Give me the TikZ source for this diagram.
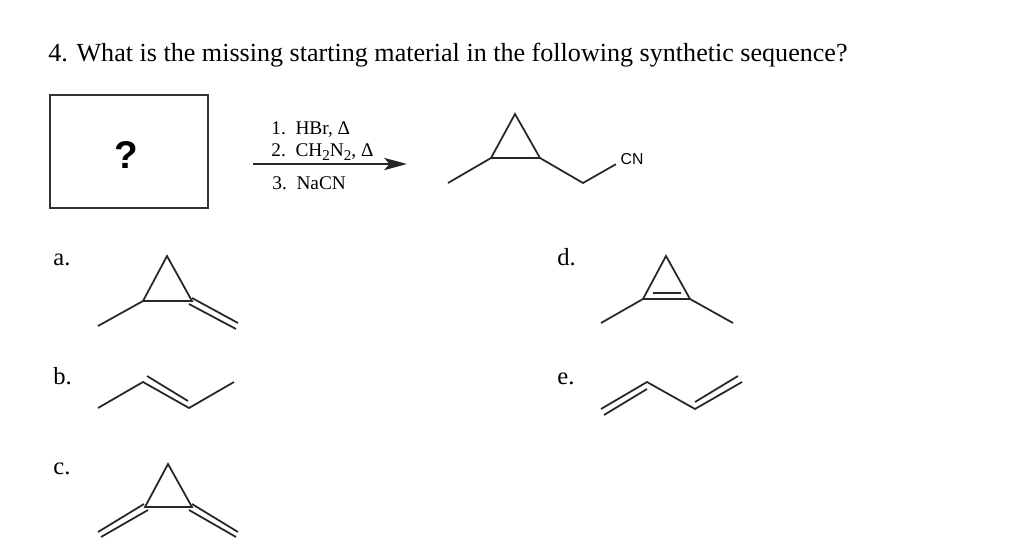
\documentclass[tikz,border=0pt]{standalone}
\usepackage{fontspec}
\setmainfont{Liberation Serif}
\setsansfont{Liberation Sans}
\usetikzlibrary{arrows.meta}
\newcommand{\subnum}[1]{\raisebox{-2.4pt}{\fontsize{8.6}{8}\selectfont #1}}
\tikzset{
  bond/.style={draw,line width=1pt,black!85},
  txt/.style={inner sep=0pt,anchor=base west,font=\fontsize{14}{16}\selectfont},
  reag/.style={inner sep=0pt,anchor=base west,font=\fontsize{11}{12}\selectfont},
}
\begin{document}
\begin{tikzpicture}[x=0.02cm,y=-0.02cm]
\useasboundingbox (0,0) rectangle (1024,558);

\node[txt,font=\fontsize{14.85}{17}\selectfont] (title) at (48,61) {4. What is the missing starting material in the following synthetic sequence?};

% box and reaction arrow
\node[draw,line width=1pt,black!80,minimum width=158*0.02cm,minimum height=113*0.02cm,inner sep=0pt] (box) at (129,151.5) {};
\node[inner sep=0pt,font=\sffamily\bfseries\fontsize{22}{24}\selectfont] (qm) at (126,155) {?};
\coordinate (a1) at (253,164);
\coordinate (a2) at (407,164);
\path[draw,line width=1pt,black!85,-{Stealth[length=13pt,width=7pt,inset=3pt]}] (a1) -- (a2);
\node[reag] (r1) at (271,134) {1.\hspace{0.5em}HBr, Δ};
\node[reag] (r2) at (271,156) {2.\hspace{0.5em}CH\subnum{2}N\subnum{2}, Δ};
\node[reag] (r3) at (272,189) {3.\hspace{0.5em}NaCN};

% product
\coordinate (p1) at (515,114);
\coordinate (p2) at (491,158);
\coordinate (p3) at (540,158);
\coordinate (p4) at (448,183);
\coordinate (p5) at (583,183);
\node[inner sep=2.5pt,font=\sffamily\fontsize{9}{10}\selectfont] (cn) at (632,159) {CN};
\path[bond] (p1) -- (p2) -- (p3) -- cycle;
\path[bond] (p2) -- (p4);
\path[bond] (p3) -- (p5) -- (cn.198);

% a
\node[txt] (la) at (53,265) {a.};
\coordinate (a-1) at (167,256);
\coordinate (a-2) at (143,301);
\coordinate (a-3) at (192,301);
\coordinate (a-4) at (98,326);
\coordinate (a-5) at (238,323);
\coordinate (a-6) at (236,329);
\coordinate (a-7) at (189,304);
\coordinate (a-8) at (192,298);
\path[bond] (a-1) -- (a-2) -- (a-3) -- cycle;
\path[bond] (a-2) -- (a-4);
\path[bond] (a-8) -- (a-5);
\path[bond] (a-7) -- (a-6);

% b
\node[txt] (lb) at (53,384) {b.};
\coordinate (b-1) at (98,408);
\coordinate (b-2) at (143,382);
\coordinate (b-3) at (189,408);
\coordinate (b-4) at (234,382);
\coordinate (b-5) at (147,376);
\coordinate (b-6) at (188,401);
\path[bond] (b-1) -- (b-2) -- (b-3) -- (b-4);
\path[bond] (b-5) -- (b-6);

% c
\node[txt] (lc) at (53,474) {c.};
\coordinate (c-1) at (168,464);
\coordinate (c-2) at (145,507);
\coordinate (c-3) at (192,507);
\coordinate (c-4) at (98,532);
\coordinate (c-5) at (101,537);
\coordinate (c-6) at (238,532);
\coordinate (c-7) at (236,537);
\coordinate (c-8) at (144,504);
\coordinate (c-9) at (148,510);
\coordinate (c-10) at (192,504);
\coordinate (c-11) at (189,510);
\path[bond] (c-1) -- (c-2) -- (c-3) -- cycle;
\path[bond] (c-8) -- (c-4);
\path[bond] (c-9) -- (c-5);
\path[bond] (c-10) -- (c-6);
\path[bond] (c-11) -- (c-7);

% d
\node[txt] (ld) at (557,265) {d.};
\coordinate (d-1) at (666,256);
\coordinate (d-2) at (643,299);
\coordinate (d-3) at (690,299);
\coordinate (d-4) at (601,323);
\coordinate (d-5) at (733,323);
\coordinate (d-6) at (653,293);
\coordinate (d-7) at (681,293);
\path[bond] (d-1) -- (d-2) -- (d-3) -- cycle;
\path[bond] (d-2) -- (d-4);
\path[bond] (d-3) -- (d-5);
\path[bond] (d-6) -- (d-7);

% e
\node[txt] (le) at (557,384) {e.};
\coordinate (e-1) at (601,409);
\coordinate (e-2) at (647,382);
\coordinate (e-3) at (695,409);
\coordinate (e-4) at (742,382);
\coordinate (e-5) at (604,415);
\coordinate (e-6) at (647,389);
\coordinate (e-7) at (695,402);
\coordinate (e-8) at (738,376);
\path[bond] (e-1) -- (e-2) -- (e-3) -- (e-4);
\path[bond] (e-5) -- (e-6);
\path[bond] (e-7) -- (e-8);
\end{tikzpicture}
\end{document}
